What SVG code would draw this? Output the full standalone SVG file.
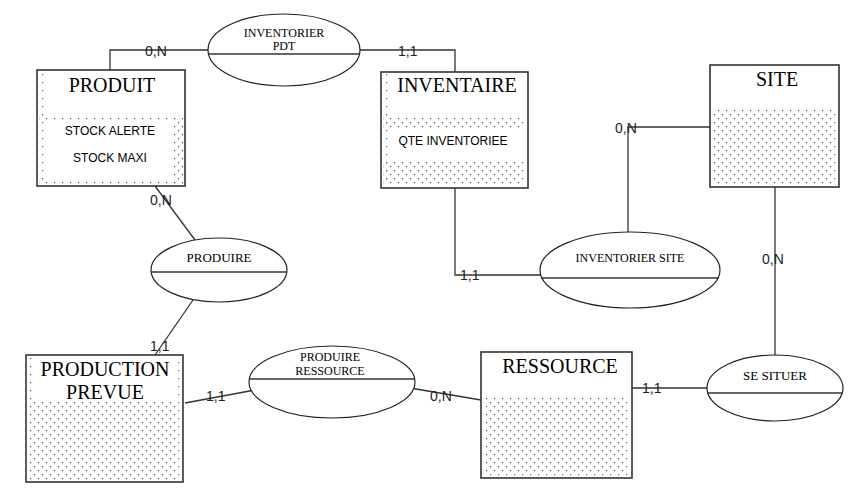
<svg xmlns="http://www.w3.org/2000/svg" width="860" height="493" viewBox="0 0 860 493">
<defs>
<pattern id="dots" width="8" height="8" patternUnits="userSpaceOnUse"><rect x="2" y="2" width="1.2" height="1.2" fill="#555"/><rect x="6" y="6" width="1.2" height="1.2" fill="#555"/></pattern>
<style>
.box{fill:#fff;stroke:#333;stroke-width:1.6}
.dot{fill:url(#dots)}
.ell{fill:#fff;stroke:#222;stroke-width:1.2}
.t{font-family:"Liberation Serif",serif;fill:#000;text-anchor:middle}
.a{font-family:"Liberation Sans",sans-serif;font-size:12px;fill:#000;text-anchor:middle}
.c{font-family:"Liberation Sans",sans-serif;font-size:14px;fill:#222}
.ln{fill:none;stroke:#333;stroke-width:1.3}
</style>
</defs>
<g id="connectors">
<polyline class="ln" points="110,70 110,50 208,50"/>
<polyline class="ln" points="360,50 455,50 455,72"/>
<polyline class="ln" points="455,188 455,275 541,275"/>
<polyline class="ln" points="628,232 628,127 710,127"/>
<line class="ln" x1="775" y1="187" x2="775" y2="355"/>
<line class="ln" x1="632" y1="388" x2="707" y2="388"/>
<line class="ln" x1="185" y1="403" x2="255" y2="390"/>
<line class="ln" x1="410" y1="388" x2="481" y2="400"/>
<line class="ln" x1="155" y1="186" x2="195" y2="240"/>
<line class="ln" x1="193" y1="300" x2="155" y2="355"/>
<text class="c" x="145" y="56">0,N</text>
<text class="c" x="398" y="56">1,1</text>
<text class="c" x="150" y="205">0,N</text>
<text class="c" x="150" y="351">1,1</text>
<text class="c" x="460" y="280">1,1</text>
<text class="c" x="615" y="133">0,N</text>
<text class="c" x="762" y="264">0,N</text>
<text class="c" x="642" y="393">1,1</text>
<text class="c" x="206" y="401">1,1</text>
<text class="c" x="430" y="401">0,N</text>
</g>
<g id="produit">
<rect class="box" x="37" y="70" width="148" height="116"/>
<rect class="dot" x="39" y="72" width="5" height="112"/>
<rect class="dot" x="39" y="115" width="144" height="7"/>
<rect class="dot" x="173" y="115" width="10" height="69"/>
<rect class="dot" x="39" y="180" width="144" height="4"/>
<text class="t" x="112" y="92" font-size="20">PRODUIT</text>
<text class="a" x="110" y="135">STOCK ALERTE</text>
<text class="a" x="110" y="162">STOCK MAXI</text>
</g>
<g id="inventaire">
<rect class="box" x="381" y="72" width="147" height="116"/>
<rect class="dot" x="383" y="74" width="5" height="112"/>
<rect class="dot" x="383" y="115" width="143" height="15"/>
<rect class="dot" x="383" y="162" width="143" height="24"/>
<text class="t" x="457" y="92" font-size="20">INVENTAIRE</text>
<text class="a" x="453" y="145">QTE INVENTORIEE</text>
</g>
<g id="site">
<rect class="box" x="710" y="65" width="129" height="122"/>
<rect class="dot" x="712" y="108" width="125" height="77"/>
<text class="t" x="777" y="86" font-size="20">SITE</text>
</g>
<g id="production">
<rect class="box" x="26" y="355" width="157" height="127"/>
<rect class="dot" x="28" y="357" width="153" height="123"/>
<rect x="34" y="357" width="143" height="44" fill="#fff"/>
<text class="t" x="105" y="376" font-size="20">PRODUCTION</text>
<text class="t" x="105" y="399" font-size="20">PREVUE</text>
</g>
<g id="ressource">
<rect class="box" x="481" y="352" width="151" height="126"/>
<rect class="dot" x="483" y="398" width="147" height="78"/>
<text class="t" x="560" y="373" font-size="20">RESSOURCE</text>
</g>
<g id="inventorier-pdt">
<ellipse class="ell" cx="284" cy="50" rx="76" ry="36"/>
<line class="ln" x1="208" y1="54" x2="360" y2="54"/>
<text class="t" x="284" y="37" font-size="12">INVENTORIER</text>
<text class="t" x="284" y="50" font-size="12">PDT</text>
</g>
<g id="inventorier-site">
<ellipse class="ell" cx="630" cy="270" rx="90" ry="38"/>
<line class="ln" x1="541" y1="278" x2="719" y2="278"/>
<text class="t" x="630" y="262" font-size="12">INVENTORIER SITE</text>
</g>
<g id="produire">
<ellipse class="ell" cx="219" cy="270" rx="68" ry="32"/>
<line class="ln" x1="151" y1="272" x2="287" y2="272"/>
<text class="t" x="219" y="262" font-size="13">PRODUIRE</text>
</g>
<g id="produire-ressource">
<ellipse class="ell" cx="332" cy="382" rx="83" ry="36"/>
<line class="ln" x1="250" y1="379" x2="414" y2="379"/>
<text class="t" x="330" y="361" font-size="12">PRODUIRE</text>
<text class="t" x="330" y="375" font-size="12">RESSOURCE</text>
</g>
<g id="se-situer">
<ellipse class="ell" cx="775" cy="388" rx="68" ry="33"/>
<line class="ln" x1="707" y1="393" x2="843" y2="393"/>
<text class="t" x="775" y="380" font-size="13">SE SITUER</text>
</g>
</svg>
